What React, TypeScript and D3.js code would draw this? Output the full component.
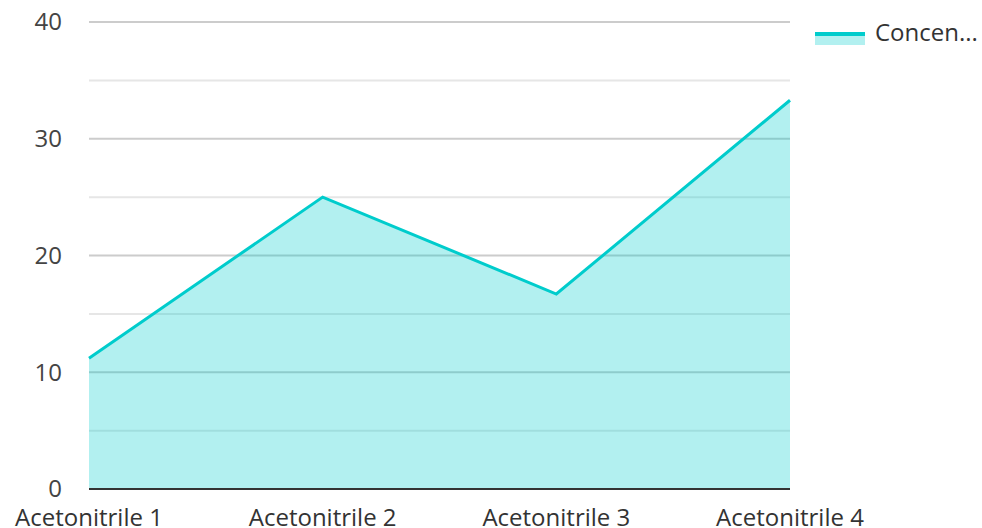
import React from "react";
import * as d3 from "d3";

const categories = ["Acetonitrile 1", "Acetonitrile 2", "Acetonitrile 3", "Acetonitrile 4"];
const values = [11.2, 25.0, 16.7, 33.3];
const majorTicks = [0, 10, 20, 30, 40];
const minorTicks = [5, 15, 25, 35];
const seriesName = "Concen...";

const W = 982;
const H = 528;
const FONT = "'Open Sans', sans-serif";
const COLOR = "#00cccc";

export default function App() {
  const x = d3.scalePoint<string>().domain(categories).range([89, 790]);
  const y = d3.scaleLinear().domain([0, 40]).range([489, 22]);
  const data = categories.map((c, i) => ({ c, v: values[i] }));
  const line = d3.line<{ c: string; v: number }>().x((d) => x(d.c)!).y((d) => y(d.v));
  const area = d3
    .area<{ c: string; v: number }>()
    .x((d) => x(d.c)!)
    .y0(y(0))
    .y1((d) => y(d.v));

  return (
    <svg width={W} height={H} style={{ position: "absolute", left: 0, top: 0 }}>
      <rect width={W} height={H} fill="#fff" />
      {minorTicks.map((t) => (
        <line key={"m" + t} x1={89} x2={790} y1={y(t)} y2={y(t)} stroke="#e6e6e6" strokeWidth={2} />
      ))}
      {majorTicks.map((t) => (
        <line key={"M" + t} x1={89} x2={790} y1={y(t)} y2={y(t)} stroke="#cccccc" strokeWidth={2} />
      ))}
      <path d={area(data)!} fill={COLOR} fillOpacity={0.3} />
      <path d={line(data)!} fill="none" stroke={COLOR} strokeWidth={3} strokeLinejoin="miter" />
      <line x1={89} x2={790} y1={y(0)} y2={y(0)} stroke="#333" strokeWidth={2} />
      {majorTicks.map((t) => (
        <text
          key={"yl" + t}
          x={62}
          y={y(t)}
          dy="0.35em"
          textAnchor="end"
          fontFamily={FONT}
          fontSize={24}
          fill="#444"
        >
          {t}
        </text>
      ))}
      {categories.map((c) => (
        <text
          key={c}
          x={x(c)!}
          y={518}
          dy="0.35em"
          textAnchor="middle"
          fontFamily={FONT}
          fontSize={24}
          fill="#333"
        >
          {c}
        </text>
      ))}
      <rect x={815} y={33} width={50} height={12} fill={COLOR} fillOpacity={0.3} />
      <rect x={815} y={32} width={50} height={4} fill={COLOR} />
      <text x={875} y={33} dy="0.35em" fontFamily={FONT} fontSize={24} fill="#333">
        {seriesName}
      </text>
    </svg>
  );
}
